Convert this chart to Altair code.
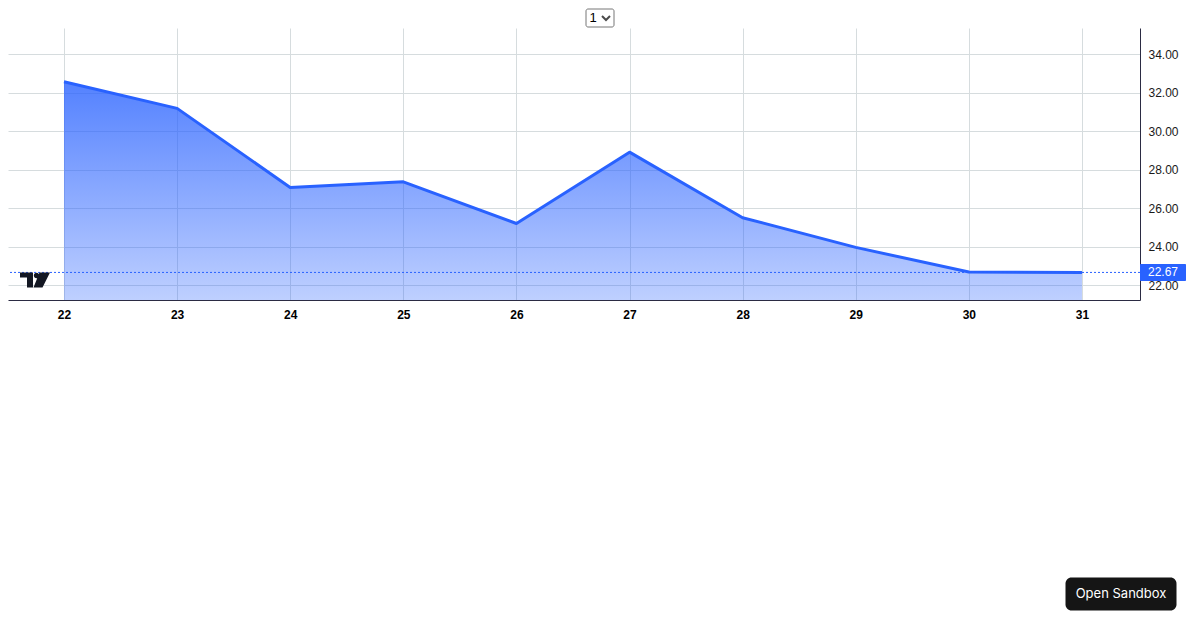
import pandas as pd
import altair as alt

# daily closes
days = [22, 23, 24, 25, 26, 27, 28, 29, 30, 31]
closes = [32.56, 31.18, 27.08, 27.37, 25.21, 28.91, 25.51, 23.97, 22.69, 22.67]
last_price = [22.67]
price_ticks = [22, 24, 26, 28, 30, 32, 34]
interval = ["1"]
button_text = ["Open Sandbox"]

blue = "#2962FF"
font = "Liberation Sans"
y_lo, y_hi = 21.24, 35.35

df = pd.DataFrame({"day": days, "close": closes})
last = pd.DataFrame({"price": last_price, "label": [f"{p:.2f}" for p in last_price]})

xscale = alt.Scale(domain=[21.505, 31.513], nice=False, zero=False)
yscale = alt.Scale(domain=[y_lo, y_hi], nice=False, zero=False)
xaxis = alt.Axis(values=days, format="d", title=None, ticks=False, labelPadding=9,
                 labelFontWeight="bold", labelColor="#000000", labelFontSize=12,
                 domainColor="#2B2B43", gridColor="#D6DCDE", labelFont=font)
yaxis = alt.Axis(orient="right", values=price_ticks, format=".2f", title=None, ticks=False,
                 labelPadding=8, labelColor="#191919", labelFontSize=12,
                 domainColor="#2B2B43", gridColor="#D6DCDE", labelFont=font)

x = alt.X("day:Q", scale=xscale, axis=xaxis)
y = alt.Y("close:Q", scale=yscale, axis=yaxis)

gradient = alt.Gradient(
    gradient="linear",
    stops=[alt.GradientStop(color="rgba(41,98,255,0.8)", offset=0),
           alt.GradientStop(color="rgba(41,98,255,0.3)", offset=1)],
    x1=1, x2=1, y1=0, y2=1,
)

base = alt.Chart(df)
area = base.mark_area(color=gradient).encode(x=x, y=y, y2=alt.datum(y_lo))
line = base.mark_line(color=blue, strokeWidth=3, strokeJoin="round").encode(x=x, y=y)

price = alt.Chart(last)
py = alt.Y("price:Q", scale=yscale, axis=yaxis)
price_line = price.mark_rule(color=blue, strokeWidth=1, strokeDash=[2, 2]).encode(y=py)
price_box = price.mark_rect(color=blue, width=46, height=17, clip=False, cornerRadius=1).encode(
    x=alt.value(1155), y=py)
price_text = price.mark_text(color="white", fontSize=12, font=font, clip=False).encode(
    x=alt.value(1155), y=py, text="label:N")

# interval selector drawn above the pane
sel = alt.Chart(pd.DataFrame({"label": interval}))
sel_box = sel.mark_rect(fill="white", stroke="#767676", strokeWidth=1, cornerRadius=2,
                        width=28, height=18, clip=False).encode(x=alt.value(592), y=alt.value(-10))
sel_text = sel.mark_text(fontSize=13, font=font, color="#000000", clip=False).encode(
    x=alt.value(585), y=alt.value(-10), text="label:N")
sel_arrow = sel.mark_point(shape="M-1,-0.5L0,0.5L1,-0.5", filled=False, stroke="#000000",
                           strokeWidth=2, size=64, clip=False).encode(x=alt.value(598), y=alt.value(-10))

# attribution logo
logo_path = ("M-1,-0.5L-0.133,-0.5L-0.133,0.5L-0.533,0.5L-0.533,-0.167L-1,-0.167Z "
             "M0.28,-0.3A0.18,0.18 0 1 1 -0.08,-0.3A0.18,0.18 0 1 1 0.28,-0.3Z "
             "M0.3,-0.5L1,-0.5L0.5,0.5L-0.1,0.5Z")
logo = sel.mark_point(shape=logo_path, filled=True, color="#131722", opacity=1, size=900,
                      clip=False).encode(x=alt.value(27), y=alt.value(252))

btn = alt.Chart(pd.DataFrame({"label": button_text}))
btn_box = btn.mark_rect(fill="#151515", cornerRadius=6, width=111, height=33, clip=False).encode(
    x=alt.value(1113), y=alt.value(566))
btn_text = btn.mark_text(color="white", fontSize=13, font="Inter", clip=False).encode(
    x=alt.value(1113), y=alt.value(566), text="label:N")

chart = alt.layer(
    area, line, price_line, logo, price_box, price_text,
    sel_box, sel_text, sel_arrow, btn_box, btn_text,
).properties(
    width=1132, height=272,
    padding={"left": 0, "top": 20, "right": 52, "bottom": 312},
    autosize=alt.AutoSizeParams(type="none"),
    background="white",
).configure_view(stroke=None)

chart.save("out.html", embed_options={"renderer": "svg", "actions": False})
